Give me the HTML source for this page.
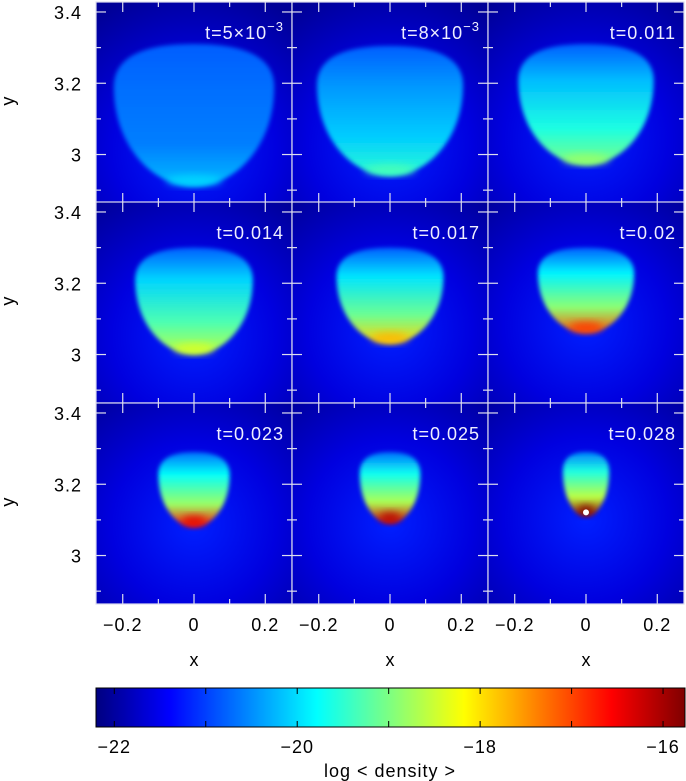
<!DOCTYPE html>
<html><head><meta charset="utf-8"><style>
html,body{margin:0;padding:0;background:#fff;}
svg{display:block;font-family:"Liberation Sans",sans-serif;}
</style></head><body>
<svg id="fig" width="686" height="781" viewBox="0 0 686 781" xmlns="http://www.w3.org/2000/svg">
<defs>
<filter id="blur2" x="-20%" y="-20%" width="140%" height="140%"><feGaussianBlur stdDeviation="2.2"/></filter>
<filter id="blur4" x="-50%" y="-50%" width="200%" height="200%"><feGaussianBlur stdDeviation="4"/></filter>
</defs>
</svg>
<script>
const timeLabels = ["5×10", "8×10", "0.011", "0.014", "0.017", "0.02", "0.023", "0.025", "0.028"];
const timeExponents = ["−3", "−3", "", "", "", "", "", "", ""];
const blobTop = [3.31, 3.305, 3.31, 3.30, 3.30, 3.30, 3.29, 3.29, 3.29];
const blobBottom = [2.91, 2.94, 2.97, 3.00, 3.03, 3.06, 3.08, 3.09, 3.11];
const blobHalfWidth = [0.225, 0.205, 0.19, 0.165, 0.15, 0.135, 0.10, 0.085, 0.065];
const topDensity = [-20.8, -20.8, -20.8, -20.8, -20.8, -20.8, -20.7, -20.7, -20.6];
const midDensity = [-20.6, -20.1, -19.6, -19.3, -19.1, -18.9, -18.8, -18.7, -18.6];
const peakDensity = [-20.2, -19.5, -19.0, -18.6, -17.9, -17.1, -16.6, -16.3, -15.9];
const xTicks = [-0.2, -0.1, 0, 0.1, 0.2];
const xTickLabels = ["−0.2", "0", "0.2"];
const xTickLabelVals = [-0.2, 0, 0.2];
const yTicks = [2.9, 3.0, 3.1, 3.2, 3.3, 3.4];
const yTickLabels = ["3", "3.2", "3.4"];
const yTickLabelVals = [3.0, 3.2, 3.4];
const cbTicks = [-22, -21, -20, -19, -18, -17, -16];
const cbLabels = ["−22", "−20", "−18", "−16"];
const cbLabelVals = [-22, -20, -18, -16];

const NS = "http://www.w3.org/2000/svg";
const svg = document.getElementById("fig");
const defs = svg.querySelector("defs");
function el(tag, attrs, parent) {
  const e = document.createElementNS(NS, tag);
  for (const k in attrs) e.setAttribute(k, attrs[k]);
  (parent || svg).appendChild(e);
  return e;
}
const colX = [96, 292, 488], rowY = [2, 202, 403], PW = 196, PH = 201;
const XMIN = -0.275, XMAX = 0.275, YMAX = 3.428, YMIN = YMAX - 0.55 * PH / PW;
function sx(c, v) { return colX[c] + (v - XMIN) / (XMAX - XMIN) * PW; }
function sy(r, v) { return rowY[r] + (YMAX - v) / (YMAX - YMIN) * PH; }
const VMIN = -22.2, VMAX = -15.76;
function jet(v) {
  const t = Math.max(0, Math.min(1, (v - VMIN) / (VMAX - VMIN)));
  const cl = x => Math.round(255 * Math.max(0, Math.min(1, x)));
  return `rgb(${cl(1.5 - Math.abs(4 * t - 3))},${cl(1.5 - Math.abs(4 * t - 2))},${cl(1.5 - Math.abs(4 * t - 1))})`;
}
const FS = 18;

for (let i = 0; i < 9; i++) {
  const c = i % 3, r = Math.floor(i / 3);
  const g = el("g", {});
  
  
  const cid = "clip" + i;
  const cp = el("clipPath", { id: cid }, defs);
  el("rect", { x: colX[c], y: rowY[r], width: PW, height: PH }, cp);
  const inner = el("g", { "clip-path": `url(#${cid})` }, g);
  const cx = sx(c, 0), by = sy(r, blobBottom[i]);
  const bg = el("radialGradient", { id: "bg" + i, gradientUnits: "userSpaceOnUse", cx: cx, cy: (sy(r, blobTop[i]) + by) / 2 + 35, r: 165 }, defs);
  el("stop", { offset: "0", "stop-color": jet(-21.2) }, bg);
  el("stop", { offset: "0.5", "stop-color": jet(-21.6) }, bg);
  el("stop", { offset: "1", "stop-color": jet(-22.05) }, bg);
  const bgr = el("rect", { x: colX[c], y: rowY[r], width: PW, height: PH, fill: `url(#bg${i})` }, inner);
  
  
  const L = sx(c, -blobHalfWidth[i]), R = sx(c, blobHalfWidth[i]);
  const T = sy(r, blobTop[i]), B = sy(r, blobBottom[i]);
  const S = T + 0.3 * (B - T), hw = (R - L) / 2;
  const lg = el("linearGradient", { id: "bl" + i, x1: 0, y1: 0, x2: 0, y2: 1 }, defs);
  el("stop", { offset: "0", "stop-color": jet(topDensity[i]) }, lg);
  el("stop", { offset: "0.3", "stop-color": jet((topDensity[i] + midDensity[i]) / 2) }, lg);
  el("stop", { offset: "0.7", "stop-color": jet(midDensity[i]) }, lg);
  el("stop", { offset: "1", "stop-color": jet(peakDensity[i]) }, lg);
  const d = `M${L},${S} Q${L},${T} ${cx},${T} Q${R},${T} ${R},${S} C${R},${S + (B - S) * 0.6} ${cx + hw * 0.5},${B} ${cx},${B} C${cx - hw * 0.5},${B} ${L},${S + (B - S) * 0.6} ${L},${S} Z`;
  const blob = el("path", { d: d, fill: `url(#bl${i})`, filter: "url(#blur2)" }, inner);
  
  
  const hot = el("ellipse", { cx: cx, cy: B - 6, rx: hw * 0.35, ry: 5, fill: jet(peakDensity[i] + 0.2), filter: "url(#blur4)", opacity: 0.85 }, inner);
  
  
  if (peakDensity[i] > -16) {
    const w = el("circle", { cx: cx, cy: B - 4, r: 3, fill: "#fff" }, inner);
    
    
  }
  const fr = el("rect", { x: colX[c], y: rowY[r], width: PW, height: PH, fill: "none", stroke: "#dde", "stroke-width": 1.2 }, g);
  
  
  xTicks.forEach(v => {
    const x = sx(c, v), len = Math.abs(Math.round(v * 10) % 2) < 0.01 ? 10 : 5;
    el("line", { x1: x, x2: x, y1: rowY[r], y2: rowY[r] + len, stroke: "#dde", "stroke-width": 1.2 }, g);
    el("line", { x1: x, x2: x, y1: rowY[r] + PH, y2: rowY[r] + PH - len, stroke: "#dde", "stroke-width": 1.2 }, g);
  });
  yTicks.forEach(v => {
    const y = sy(r, v), len = Math.abs(Math.round(v * 10) % 2) < 0.01 ? 10 : 5;
    el("line", { y1: y, y2: y, x1: colX[c], x2: colX[c] + len, stroke: "#dde", "stroke-width": 1.2 }, g);
    el("line", { y1: y, y2: y, x1: colX[c] + PW, x2: colX[c] + PW - len, stroke: "#dde", "stroke-width": 1.2 }, g);
  });
  const tl = el("text", { x: colX[c] + PW - 8, y: rowY[r] + 37, fill: "#eef", "font-size": FS, "letter-spacing": 1, "text-anchor": "end" }, g);
  
  
  tl.textContent = "t=" + timeLabels[i];
  if (timeExponents[i]) {
    const sp = el("tspan", { dy: -8, "font-size": 13 }, tl);
    sp.textContent = timeExponents[i];
  }
  if (c === 0) {
    yTickLabelVals.forEach((v, k) => {
      const t = el("text", { x: 82, y: sy(r, v) + 7, "font-size": FS, "letter-spacing": 1, "text-anchor": "end", fill: "#000" });
      
      
      t.textContent = yTickLabels[k];
    });
    const yt = el("text", { x: 14, y: sy(r, 3.15), "font-size": FS, "text-anchor": "middle", transform: `rotate(-90 14 ${sy(r, 3.15)})` });
    
    
    yt.textContent = "y";
  }
  if (r === 2) {
    xTickLabelVals.forEach((v, k) => {
      const t = el("text", { x: sx(c, v), y: 631, "font-size": FS, "letter-spacing": 1, "text-anchor": "middle", fill: "#000" });
      
      
      t.textContent = xTickLabels[k];
    });
    const xt = el("text", { x: sx(c, 0), y: 666, "font-size": FS, "text-anchor": "middle" });
    
    
    xt.textContent = "x";
  }
}

const CBX0 = 96, CBX1 = 685, CBY0 = 688, CBY1 = 727;
function cx_(v) { return CBX0 + (v - VMIN) / (VMAX - VMIN) * (CBX1 - CBX0); }
const cg = el("linearGradient", { id: "cbgrad", x1: 0, y1: 0, x2: 1, y2: 0 }, defs);
for (let k = 0; k <= 40; k++) {
  const v = VMIN + (VMAX - VMIN) * k / 40;
  el("stop", { offset: k / 40, "stop-color": jet(v) }, cg);
}
const cb = el("rect", { x: CBX0, y: CBY0, width: CBX1 - CBX0, height: CBY1 - CBY0, fill: "url(#cbgrad)", stroke: "#000", "stroke-width": 1 });


cbTicks.forEach(v => {
  const x = cx_(v);
  el("line", { x1: x, x2: x, y1: CBY0, y2: CBY0 + 6, stroke: "#000", "stroke-width": 1 });
  el("line", { x1: x, x2: x, y1: CBY1, y2: CBY1 - 6, stroke: "#000", "stroke-width": 1 });
});
cbLabelVals.forEach((v, k) => {
  const t = el("text", { x: cx_(v), y: 753, "font-size": FS, "letter-spacing": 1, "text-anchor": "middle" });
  
  
  t.textContent = cbLabels[k];
});
const cbt = el("text", { x: 390, y: 777, "font-size": FS, "letter-spacing": 1, "text-anchor": "middle" });


cbt.textContent = "log < density >";
</script>
</body></html>
